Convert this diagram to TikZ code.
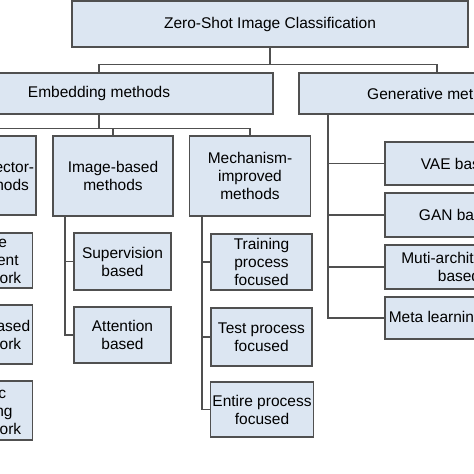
\documentclass[tikz,border=0pt]{standalone}
\usepackage{fontspec}
\setmainfont{Liberation Sans}
\usetikzlibrary{positioning}
\definecolor{boxfill}{RGB}{220,230,242}
\definecolor{boxline}{RGB}{80,80,80}

\begin{document}
\begin{tikzpicture}[x=1pt, y=-1pt,
	box/.style={draw=boxline, fill=boxfill, line width=1.3pt, align=center, inner sep=2pt,
		font=\fontsize{15.5}{18}\selectfont},
	link/.style={draw=boxline, line width=1.3pt}]
	\useasboundingbox (0,0) rectangle (474,474);
	\clip (0,0) rectangle (474,474);
	\node[box, minimum width=396pt, minimum height=46pt] (root) at (270, 24) {Zero-Shot Image Classification};
	\node[box, minimum width=348pt, minimum height=41pt] (emb) at (99, 93.5) {Embedding methods};
	\node[box, minimum width=276pt, minimum height=41pt] (gen) at (437, 93.5) {Generative methods};
	% embedding branch
	\node[box, minimum width=120pt, minimum height=79pt] (vec) at (-24, 175.5) {Semantic vector-\\based methods};
	\node[box, minimum width=120pt, minimum height=80pt] (img) at (113, 176) {Image-based\\methods};
	\node[box, minimum width=121pt, minimum height=80pt] (mech) at (250, 176) {Mechanism-\\improved\\methods};
	\node[box, minimum width=95pt, minimum height=55pt] (align) at (-15, 260.5) {Space\\alignment\\framework};
	\node[box, minimum width=95pt, minimum height=59pt] (graph) at (-15, 334.5) {Graph-based\\framework};
	\node[box, minimum width=95pt, minimum height=59pt] (metric) at (-15, 410.5) {Metric\\learning\\framework};
	\node[box, minimum width=97pt, minimum height=57pt] (sup) at (122.5, 261.5) {Supervision\\based};
	\node[box, minimum width=97pt, minimum height=56pt] (att) at (122.5, 335) {Attention\\based};
	\node[box, minimum width=101pt, minimum height=56pt] (train) at (261.5, 262) {Training\\process\\focused};
	\node[box, minimum width=101pt, minimum height=58pt] (test) at (261.5, 337) {Test process\\focused};
	\node[box, minimum width=102pt, minimum height=55pt] (whole) at (262, 409.5) {Entire process\\focused};
	% generative branch
	\node[box, minimum width=148pt, minimum height=43pt] (vae) at (459, 163.5) {VAE based};
	\node[box, minimum width=148pt, minimum height=44pt] (gan) at (459, 215) {GAN based};
	\node[box, minimum width=148pt, minimum height=44pt] (muti) at (459, 267) {Muti-architecture\\based};
	\node[box, minimum width=148pt, minimum height=42pt] (meta) at (459, 318) {Meta learning based};
	% connectors
	\draw[link] (root.south) -- ++(0,17) -| (emb.north);
	\draw[link] (root.south) -- ++(0,17) -| (gen.north);
	\draw[link] (emb.south) -- ++(0,14) -| (vec.north);
	\draw[link] (emb.south) -- ++(0,14) -| (img.north);
	\draw[link] (emb.south) -- ++(0,14) -| (mech.north);
	\draw[link] ([xshift=-48pt]vec.south) |- (align.west);
	\draw[link] ([xshift=-48pt]vec.south) |- (graph.west);
	\draw[link] ([xshift=-48pt]vec.south) |- (metric.west);
	\draw[link] ([xshift=-48pt]img.south) |- (sup.west);
	\draw[link] ([xshift=-48pt]img.south) |- (att.west);
	\draw[link] ([xshift=-48pt]mech.south) |- (train.west);
	\draw[link] ([xshift=-48pt]mech.south) |- (test.west);
	\draw[link] ([xshift=-48pt]mech.south) |- (whole.west);
	\draw[link] ([xshift=-109pt]gen.south) |- (vae.west);
	\draw[link] ([xshift=-109pt]gen.south) |- (gan.west);
	\draw[link] ([xshift=-109pt]gen.south) |- (muti.west);
	\draw[link] ([xshift=-109pt]gen.south) |- (meta.west);
\end{tikzpicture}
\end{document}
